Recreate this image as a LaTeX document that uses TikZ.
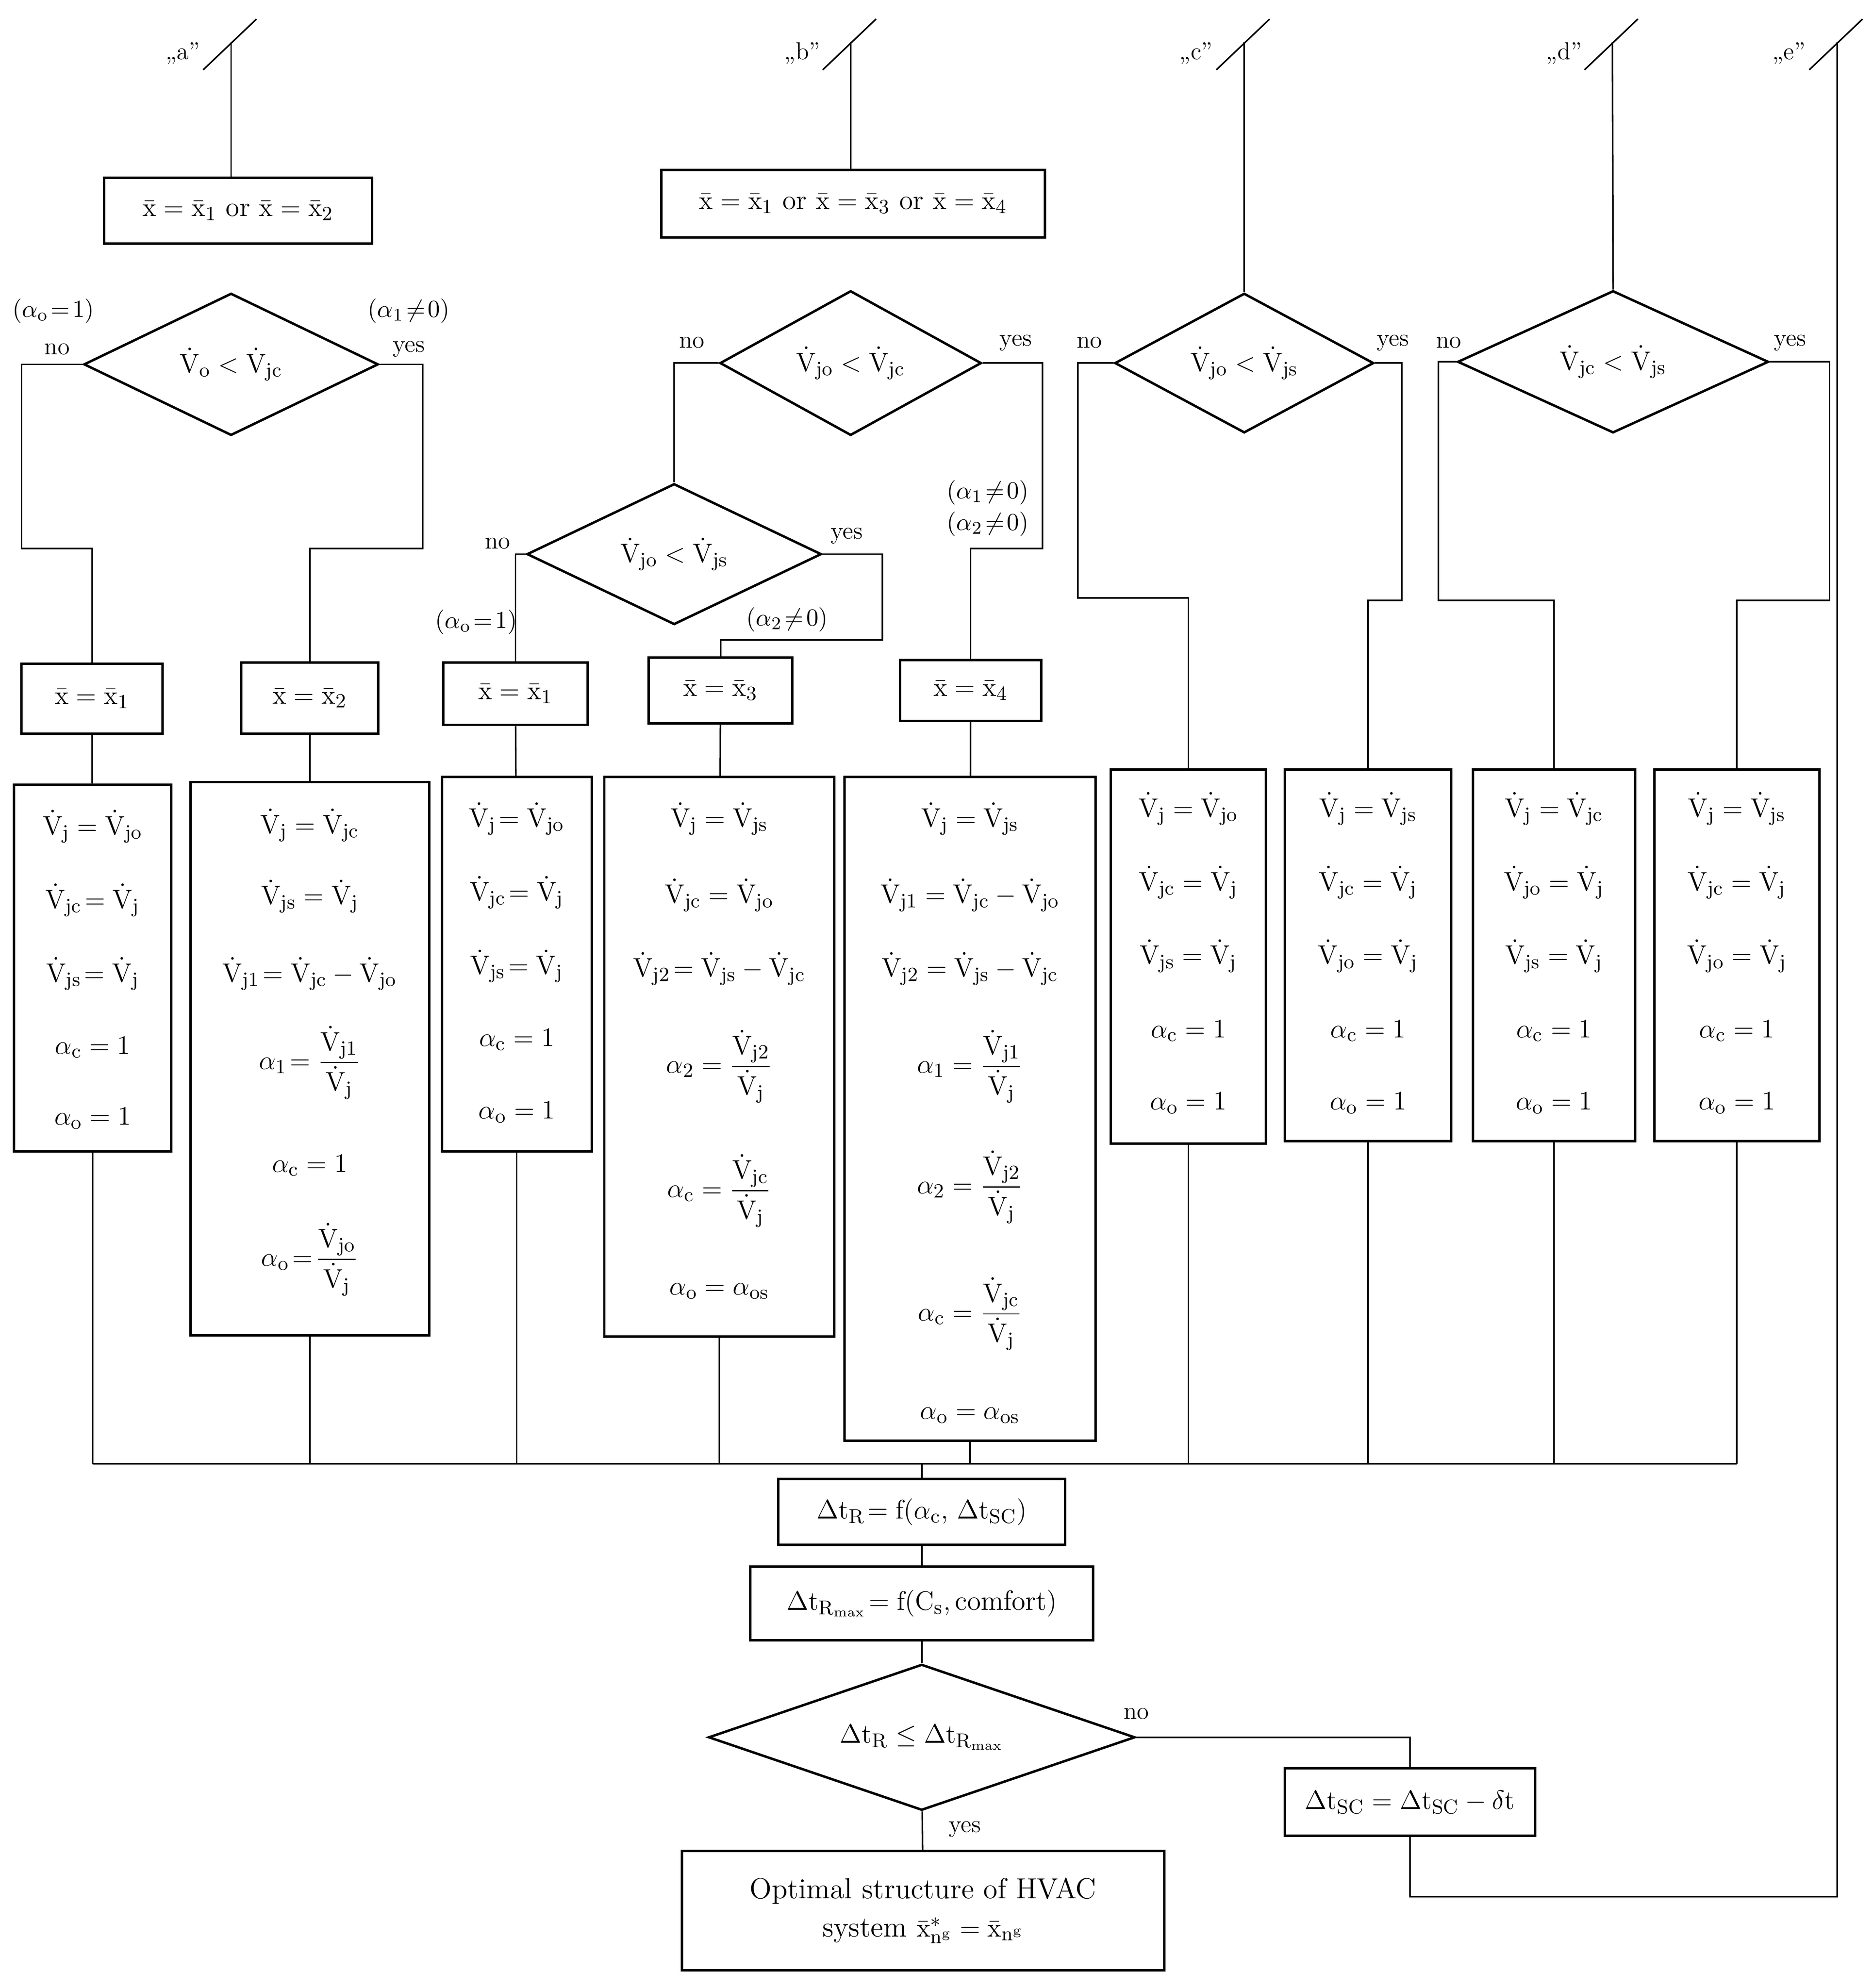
\documentclass[tikz,border=0pt]{standalone}
\usepackage{amsmath}
\usetikzlibrary{shapes.geometric}
\newcommand\Vd[1]{\dot{\mathrm{V}}_{\mathrm{#1}}}
\newcommand\al[1]{\alpha_{\mathrm{#1}}}
\newcommand\fr[1]{\dfrac{\Vd{#1}}{\Vd{j}}}
\begin{document}
\begin{tikzpicture}[x=0.02cm,y=-0.02cm,
  every node/.style={font=\fontsize{12.5}{15}\selectfont},
  box/.style={draw, line width=1.1pt, inner sep=0pt},
  dia/.style={draw, diamond, aspect=2, line width=1.1pt, inner sep=0pt},
  con/.style={line width=0.7pt},
  lbl/.style={inner sep=1pt, font=\fontsize{11}{13}\selectfont}]
\useasboundingbox (0,0) rectangle (1475,1566);

% entry points
\foreach \n/\x/\t in {a/182/a, b/670/b, c/980/c, d/1270/d, e/1447/e}{
  \coordinate (t\n) at (\x,33);
  \draw[con] (\x-22,55) -- (\x+20,15);
  \node[lbl] (l\n) at (\x-38,42) {„\t”};
}

% top boxes
\node[box, minimum width=4.22cm, minimum height=1.04cm] (A) at (187.5,166)
  {$\bar{\mathrm x}=\bar{\mathrm x}_1$ or $\bar{\mathrm x}=\bar{\mathrm x}_2$};
\node[box, minimum width=6.04cm, minimum height=1.06cm] (B) at (672,160.5)
  {$\bar{\mathrm x}=\bar{\mathrm x}_1$ or $\bar{\mathrm x}=\bar{\mathrm x}_3$ or $\bar{\mathrm x}=\bar{\mathrm x}_4$};

% decisions
\node[dia, minimum width=4.64cm, minimum height=2.24cm] (Da) at (182,287) {$\Vd{o}<\Vd{jc}$};
\node[dia, minimum width=4.12cm, minimum height=2.28cm] (Db) at (670,286) {$\Vd{jo}<\Vd{jc}$};
\node[dia, minimum width=4.64cm, minimum height=2.22cm] (Db2) at (531,436.5) {$\Vd{jo}<\Vd{js}$};
\node[dia, minimum width=4.08cm, minimum height=2.2cm] (Dc) at (980,286) {$\Vd{jo}<\Vd{js}$};
\node[dia, minimum width=4.9cm, minimum height=2.24cm] (Dd) at (1270.5,285) {$\Vd{jc}<\Vd{js}$};

% small boxes
\node[box, minimum width=2.22cm, minimum height=1.1cm] (X1a) at (72.5,550.5) {$\bar{\mathrm x}=\bar{\mathrm x}_1$};
\node[box, minimum width=2.16cm, minimum height=1.12cm] (X2) at (244,550) {$\bar{\mathrm x}=\bar{\mathrm x}_2$};
\node[box, minimum width=2.28cm, minimum height=0.98cm] (X1b) at (406,546.5) {$\bar{\mathrm x}=\bar{\mathrm x}_1$};
\node[box, minimum width=2.26cm, minimum height=1.04cm] (X3) at (567.5,544) {$\bar{\mathrm x}=\bar{\mathrm x}_3$};
\node[box, minimum width=2.22cm, minimum height=0.96cm] (X4) at (764.5,544) {$\bar{\mathrm x}=\bar{\mathrm x}_4$};

% big boxes
\node[box, minimum width=2.48cm, minimum height=5.78cm] (B1) at (73,762.5) {};
\node[box, minimum width=3.76cm, minimum height=8.72cm] (B2) at (244,834) {};
\node[box, minimum width=2.36cm, minimum height=5.9cm] (B3) at (407,759.5) {};
\node[box, minimum width=3.62cm, minimum height=8.82cm] (B4) at (566.5,832.5) {};
\node[box, minimum width=3.96cm, minimum height=10.46cm] (B5) at (764,873.5) {};
\node[box, minimum width=2.44cm, minimum height=5.9cm] (B6) at (936,753.5) {};
\node[box, minimum width=2.62cm, minimum height=5.86cm] (B7) at (1077.5,752.5) {};
\node[box, minimum width=2.56cm, minimum height=5.86cm] (B8) at (1224,752.5) {};
\node[box, minimum width=2.6cm, minimum height=5.86cm] (B9) at (1368,752.5) {};

% box contents
\node (b1a) at (73,651) {$\Vd{j}=\Vd{jo}$};
\node (b1b) at (73,709) {$\Vd{jc}\!=\Vd{j}$};
\node (b1c) at (73,767) {$\Vd{js}\!=\Vd{j}$};
\node (b1d) at (73,825) {$\al{c}=1$};
\node (b1e) at (73,881) {$\al{o}=1$};

\node (b2a) at (244,650) {$\Vd{j}=\Vd{jc}$};
\node (b2b) at (244,706) {$\Vd{js}=\Vd{j}$};
\node (b2c) at (244,767) {$\Vd{j1}\!=\Vd{jc}-\Vd{jo}$};
\node (b2d) at (244,837) {$\alpha_1\!=\fr{j1}$};
\node (b2e) at (244,918) {$\al{c}=1$};
\node (b2f) at (244,992) {$\al{o}\!=\!\fr{jo}$};

\node (b3a) at (407,645) {$\Vd{j}\!=\Vd{jo}$};
\node (b3b) at (407,703) {$\Vd{jc}\!=\Vd{j}$};
\node (b3c) at (407,761) {$\Vd{js}\!=\Vd{j}$};
\node (b3d) at (407,819) {$\al{c}=1$};
\node (b3e) at (407,876) {$\al{o}=1$};

\node (b4a) at (566.5,645) {$\Vd{j}=\Vd{js}$};
\node (b4b) at (566.5,705) {$\Vd{jc}=\Vd{jo}$};
\node (b4c) at (566.5,763) {$\Vd{j2}\!=\Vd{js}-\Vd{jc}$};
\node (b4d) at (566.5,840) {$\alpha_2=\fr{j2}$};
\node (b4e) at (566.5,938) {$\al{c}=\fr{jc}$};
\node (b4f) at (566.5,1017) {$\al{o}=\al{os}$};

\node (b5a) at (764,645) {$\Vd{j}=\Vd{js}$};
\node (b5b) at (764,705) {$\Vd{j1}=\Vd{jc}-\Vd{jo}$};
\node (b5c) at (764,763) {$\Vd{j2}=\Vd{js}-\Vd{jc}$};
\node (b5d) at (764,840) {$\alpha_1=\fr{j1}$};
\node (b5e) at (764,935) {$\alpha_2=\fr{j2}$};
\node (b5f) at (764,1035) {$\al{c}=\fr{jc}$};
\node (b5g) at (764,1115) {$\al{o}=\al{os}$};

\node (b6a) at (936,637) {$\Vd{j}=\Vd{jo}$};
\node (b6b) at (936,695) {$\Vd{jc}=\Vd{j}$};
\node (b6c) at (936,753) {$\Vd{js}=\Vd{j}$};
\node (b6d) at (936,812) {$\al{c}=1$};
\node (b6e) at (936,869) {$\al{o}=1$};

\node (b7a) at (1077.5,637) {$\Vd{j}=\Vd{js}$};
\node (b7b) at (1077.5,695) {$\Vd{jc}=\Vd{j}$};
\node (b7c) at (1077.5,753) {$\Vd{jo}=\Vd{j}$};
\node (b7d) at (1077.5,812) {$\al{c}=1$};
\node (b7e) at (1077.5,869) {$\al{o}=1$};

\node (b8a) at (1224,637) {$\Vd{j}=\Vd{jc}$};
\node (b8b) at (1224,695) {$\Vd{jo}=\Vd{j}$};
\node (b8c) at (1224,753) {$\Vd{js}=\Vd{j}$};
\node (b8d) at (1224,812) {$\al{c}=1$};
\node (b8e) at (1224,869) {$\al{o}=1$};

\node (b9a) at (1368,637) {$\Vd{j}=\Vd{js}$};
\node (b9b) at (1368,695) {$\Vd{jc}=\Vd{j}$};
\node (b9c) at (1368,753) {$\Vd{jo}=\Vd{j}$};
\node (b9d) at (1368,812) {$\al{c}=1$};
\node (b9e) at (1368,869) {$\al{o}=1$};

% bottom part
\node[box, minimum width=4.52cm, minimum height=1.04cm] (R1) at (726,1191)
  {$\Delta\mathrm{t_R}\!=\mathrm{f}(\al{c},\,\Delta\mathrm{t_{SC}})$};
\node[box, minimum width=5.4cm, minimum height=1.16cm] (R2) at (726,1263)
  {$\Delta\mathrm{t}_{\mathrm{R}_{\mathrm{max}}}\!=\mathrm{f}(\mathrm{C_s},\,$comfort$)$};
\node[dia, aspect=3, minimum width=6.72cm, minimum height=2.3cm] (Df) at (726,1368.5)
  {$\Delta\mathrm{t_R}\le\Delta\mathrm{t}_{\mathrm{R}_{\mathrm{max}}}$};
\node[box, minimum width=3.94cm, minimum height=1.06cm] (S) at (1110.5,1419.5)
  {$\Delta\mathrm{t_{SC}}=\Delta\mathrm{t_{SC}}-\delta\mathrm{t}$};
\node[box, minimum width=7.6cm, minimum height=1.88cm, align=center, font=\fontsize{13}{17}\selectfont] (O) at (727,1505)
  {Optimal structure of HVAC\\system $\bar{\mathrm x}^{*}_{\mathrm{n^g}}=\bar{\mathrm x}_{\mathrm{n^g}}$};

% labels
\node[lbl] (n1) at (42,245) {$(\al{o}\!=\!1)$};
\node[lbl] (n2) at (45,275) {no};
\node[lbl] (n3) at (322,245) {$(\alpha_1\!\ne\!0)$};
\node[lbl] (n4) at (322,275) {yes};
\node[lbl] (n5) at (545,270) {no};
\node[lbl] (n6) at (800,270) {yes};
\node[lbl] (n7) at (392,428) {no};
\node[lbl] (n8) at (667,422) {yes};
\node[lbl] (n9) at (375,490) {$(\al{o}\!=\!1)$};
\node[lbl] (n10) at (620,488) {$(\alpha_2\!\ne\!0)$};
\node[lbl] (n11) at (778,388) {$(\alpha_1\!\ne\!0)$};
\node[lbl] (n12) at (778,413) {$(\alpha_2\!\ne\!0)$};
\node[lbl] (n13) at (858,270) {no};
\node[lbl] (n14) at (1097,270) {yes};
\node[lbl] (n15) at (1141,270) {no};
\node[lbl] (n16) at (1410,270) {yes};
\node[lbl] (n17) at (895,1350) {no};
\node[lbl] (n18) at (760,1441) {yes};

% bend points
\coordinate (ka1) at (17,432);
\coordinate (ka2) at (333,432);
\coordinate (kb1) at (821,432);
\coordinate (kb2) at (695,504);
\coordinate (kc1) at (849,471);
\coordinate (kc2) at (1104,473);
\coordinate (kd1) at (1133,473);
\coordinate (kd2) at (1441,473);
\coordinate (ke) at (1447,1494);
\coordinate (bus) at (0,1153);

% connectors
\draw[con] (ta) -- (ta |- A.north);
\draw[con] (tb) -- (tb |- B.north);
\draw[con] (tc) -- (Dc.north);
\draw[con] (td) -- (Dd.north);
\draw[con] (te) -- (ke) -| (S.south);
\draw[con] (Da.west) -| (ka1) -| (X1a.north);
\draw[con] (Da.east) -| (ka2) -| (X2.north);
\draw[con] (Db.west) -| (Db2.north);
\draw[con] (Db2.west) -| (X1b.north);
\draw[con] (Db2.east) -| (kb2) -| (X3.north);
\draw[con] (Db.east) -| (kb1) -| (X4.north);
\draw[con] (Dc.west) -| (kc1) -| (B6.north);
\draw[con] (Dc.east) -| (kc2) -| (B7.north);
\draw[con] (Dd.west) -| (kd1) -| (B8.north);
\draw[con] (Dd.east) -| (kd2) -| (B9.north);
\draw[con] (X1a) -- (B1);
\draw[con] (X2) -- (B2);
\draw[con] (X1b) -- (B3);
\draw[con] (X3) -- (B4);
\draw[con] (X4) -- (B5);
\foreach \b in {B1,B2,B3,B4,B5,B6,B7,B8,B9}
  \draw[con] (\b.south) -- (\b.south |- bus);
\draw[con] (B1.south |- bus) -- (B9.south |- bus);
\draw[con] (R1.north |- bus) -- (R1.north);
\draw[con] (R1) -- (R2);
\draw[con] (R2) -- (Df);
\draw[con] (Df) -- (O);
\draw[con] (Df.east) -| (S.north);
\end{tikzpicture}
\end{document}
